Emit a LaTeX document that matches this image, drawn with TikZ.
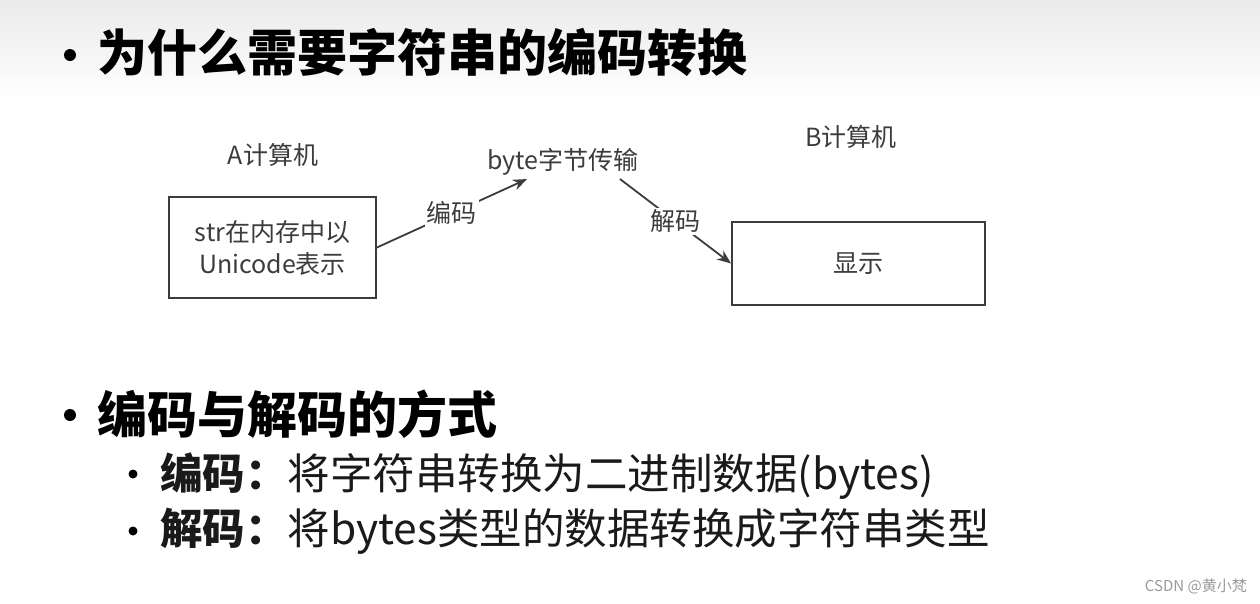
\documentclass[tikz,border=0pt]{standalone}
\usepackage{fontspec}
\usepackage{xcolor}
\usepackage{tikz}
\usetikzlibrary{arrows.meta, positioning, calc}
\newfontfamily\cjk{Noto Sans CJK SC}
\definecolor{inkcolor}{HTML}{1A1A1A}
\definecolor{linecolor}{HTML}{3C3C3C}
\definecolor{markcolor}{HTML}{9A9A9A}

\begin{document}
\begin{tikzpicture}[
    x=1pt, y=-1pt,
    heading/.style={anchor=west, inner sep=0, text=black, font=\cjk\bfseries\fontsize{50}{60}\selectfont},
    item/.style={anchor=west, inner sep=0, text=inkcolor, font=\cjk\fontsize{42.5}{50}\selectfont},
    dot/.style={circle, fill=black, inner sep=0},
    lbl/.style={text=linecolor, font=\cjk\fontsize{25}{32}\selectfont},
    pcbox/.style={draw=linecolor, line width=1.8pt, align=center, lbl},
    conn/.style={draw=linecolor, line width=1.8pt, -{Stealth[length=14pt, width=11pt]}},
    onlbl/.style={lbl, fill=white, inner sep=2pt}
]
    \useasboundingbox (0,0) rectangle (1260,603);
    \fill[white] (0,0) rectangle (1260,603);
    \shade[top color=black!8, bottom color=white] (0,0) rectangle (1260,100);

    % --- why convert ---
    \node[dot, minimum size=12pt] (d1) at (70,55) {};
    \node[heading] (why) at (97,52) {为什么需要字符串的编码转换};

    \node[lbl] (pca) at (273,155) {A计算机};
    \node[pcbox, minimum width=207pt, minimum height=101pt] (boxa) at (272.5,247.5) {str在内存中以\\Unicode表示};
    \node[lbl] (byte) at (563,162) {byte字节传输};
    \node[lbl] (pcb) at (851,137) {B计算机};
    \node[pcbox, minimum width=253pt, minimum height=83pt] (boxb) at (858.5,263.5) {显示};

    \draw[conn] (boxa.east) -- node[onlbl] (enc) {编码} ([xshift=-36pt]byte.south);
    \draw[conn] ([xshift=57pt]byte.south) -- node[onlbl] (dec) {解码} (boxb.west);

    % --- how ---
    \node[dot, minimum size=12pt] (d2) at (70,415) {};
    \node[heading] (how) at (97,414) {编码与解码的方式};
    \node[dot, minimum size=9pt] (d3) at (133,474) {};
    \node[item] (encitem) at (160,476) {{\bfseries 编码：}将字符串转换为二进制数据(bytes)};
    \node[dot, minimum size=9pt] (d4) at (133,531) {};
    \node[item] (decitem) at (160,531) {{\bfseries 解码：}将bytes类型的数据转换成字符串类型};

    \node[anchor=east, inner sep=0, text=markcolor, font=\cjk\fontsize{15}{18}\selectfont] (mark) at (1247,586) {CSDN @黄小梵};
\end{tikzpicture}
\end{document}
